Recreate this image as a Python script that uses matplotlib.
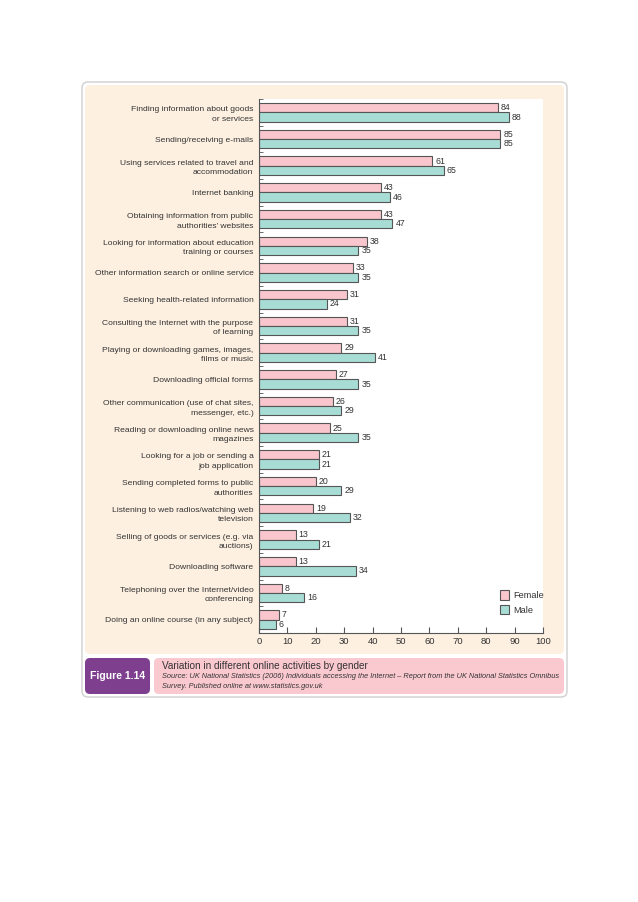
import matplotlib
matplotlib.use("Agg")
import matplotlib.pyplot as plt
from matplotlib.patches import FancyBboxPatch
from matplotlib.transforms import IdentityTransform
import numpy as np

plt.rcParams['font.family'] = ['Liberation Sans', 'DejaVu Sans']

# Daten ------------------------------------------------------------
activities = [
    "Finding information about goods\nor services",
    "Sending/receiving e-mails",
    "Using services related to travel and\naccommodation",
    "Internet banking",
    "Obtaining information from public\nauthorities\u2019 websites",
    "Looking for information about education\ntraining or courses",
    "Other information search or online service",
    "Seeking health-related information",
    "Consulting the Internet with the purpose\nof learning",
    "Playing or downloading games, images,\nfilms or music",
    "Downloading official forms",
    "Other communication (use of chat sites,\nmessenger, etc.)",
    "Reading or downloading online news\nmagazines",
    "Looking for a job or sending a\njob application",
    "Sending completed forms to public\nauthorities",
    "Listening to web radios/watching web\ntelevision",
    "Selling of goods or services (e.g. via\nauctions)",
    "Downloading software",
    "Telephoning over the Internet/video\nconferencing",
    "Doing an online course (in any subject)",
]
female = [84, 85, 61, 43, 43, 38, 33, 31, 31, 29, 27, 26, 25, 21, 20, 19, 13, 13, 8, 7]
male = [88, 85, 65, 46, 47, 35, 35, 24, 35, 41, 35, 29, 35, 21, 29, 32, 21, 34, 16, 6]
xticks = list(range(0, 101, 10))

W, H = 638, 902
fig = plt.figure(figsize=(W / 100, H / 100), dpi=100)
fig.patch.set_facecolor('white')


def box(x, y, w, h, fc, ec='none', r=4, lw=1.0):
    # Pixelkoordinaten, y von oben
    p = FancyBboxPatch((x + r, H - y - h + r), w - 2 * r, h - 2 * r,
                       boxstyle="round,pad=%d" % r, fc=fc, ec=ec, lw=lw,
                       transform=IdentityTransform(), zorder=-10)
    fig.add_artist(p)


# Hintergrund ------------------------------------------------------
box(82, 82, 485, 615, 'white', ec='#cfcfcf', r=6, lw=1.0)
box(85, 85, 479, 569, '#fdf0e1', r=5)
box(85, 658, 65, 36, '#7d3f8e', r=5)
box(154, 658, 410, 36, '#f9c9cf', r=5)

fig.text(117.5 / W, 1 - 676 / H, "Figure 1.14", color='white', fontsize=7.5,
         fontweight='bold', ha='center', va='center')
fig.text(162 / W, 1 - 666 / H, "Variation in different online activities by gender",
         color='#333333', fontsize=7.2, ha='left', va='center')
fig.text(162 / W, 1 - 677 / H,
         "Source: UK National Statistics (2006) Individuals accessing the Internet \u2013 "
         "Report from the UK National Statistics Omnibus",
         color='#333333', fontsize=5.3, style='italic', ha='left', va='center')
fig.text(162 / W, 1 - 686 / H, "Survey. Published online at www.statistics.gov.uk",
         color='#333333', fontsize=5.3, style='italic', ha='left', va='center')

# Grafik ------------------------------------------------------------
ax = fig.add_axes([259 / W, 1 - 633 / H, 284 / W, 534 / H])
ax.set_facecolor('white')

n = len(activities)
y = np.arange(n)
bh = 0.35
ax.barh(y - bh / 2, female, height=bh, color='#f9c6cd', edgecolor='#555555',
        linewidth=0.8, label='Female')
ax.barh(y + bh / 2, male, height=bh, color='#a8ddd6', edgecolor='#555555',
        linewidth=0.8, label='Male')

for i in range(n):
    ax.text(female[i] + 1.0, y[i] - bh / 2, str(female[i]), fontsize=6.3,
            color='#333333', va='center', ha='left')
    ax.text(male[i] + 1.0, y[i] + bh / 2, str(male[i]), fontsize=6.3,
            color='#333333', va='center', ha='left')

ax.set_xlim(0, 100)
ax.set_ylim(n - 0.5, -0.5)
ax.set_xticks(xticks)
ax.set_xticklabels([str(t) for t in xticks], fontsize=6.8, color='#333333')
ax.set_yticks(y)
ax.set_yticklabels(activities, fontsize=6.1, color='#333333')
for lab in ax.get_yticklabels():
    lab.set_linespacing(1.5)
ax.set_yticks(np.arange(n) - 0.5, minor=True)
ax.tick_params(axis='y', which='major', length=0, pad=4)
ax.tick_params(axis='y', which='minor', direction='in', length=3, color='#555555')
ax.tick_params(axis='x', direction='in', length=4, color='#555555', pad=3)

for s in ['top', 'right']:
    ax.spines[s].set_visible(False)
for s in ['left', 'bottom']:
    ax.spines[s].set_color('#555555')
    ax.spines[s].set_linewidth(0.8)

ax.legend(loc='lower left', bbox_to_anchor=(0.82, 0.019), frameon=False,
          fontsize=6.6, handlelength=1.0, handleheight=1.2, handletextpad=0.4,
          labelspacing=0.5, labelcolor='#333333')

fig.savefig('out.png', dpi=100)
